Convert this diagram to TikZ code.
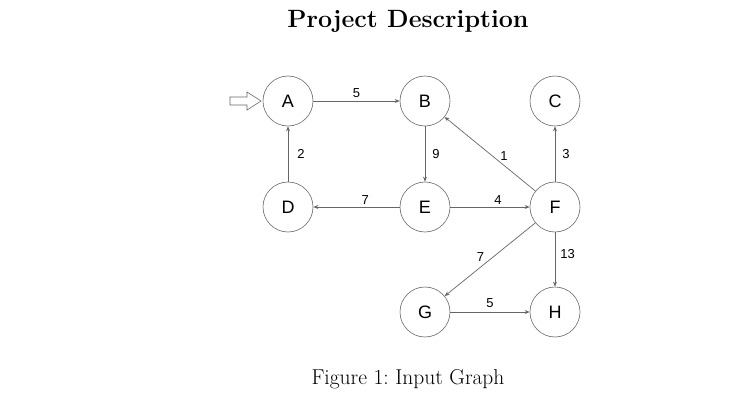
\documentclass[tikz,border=0pt]{standalone}
\usepackage{fontspec}
\newfontfamily\sansf{Liberation Sans}
\usetikzlibrary{arrows.meta}
\begin{document}
\begin{tikzpicture}[x=1pt,y=-1pt,
  st/.style={circle,draw=gray!80!black,line width=0.6pt,minimum size=50pt,inner sep=0pt,font=\sansf\fontsize{18}{18}\selectfont},
  ed/.style={draw=gray!80!black,line width=0.7pt,-{Stealth[length=5pt,width=4pt]}},
  lb/.style={font=\sansf\fontsize{13}{13}\selectfont,inner sep=1pt}]
\useasboundingbox (0,0) rectangle (756,420);
\node[font=\bfseries\fontsize{25}{25}\selectfont] (title) at (408,21) {Project Description};
\node[font=\fontsize{21.5}{21.5}\selectfont] (cap) at (408,379) {Figure 1:\ Input Graph};
\node[st] (A) at (288,101) {A};
\node[st] (B) at (425,101) {B};
\node[st] (C) at (555,101) {C};
\node[st] (D) at (288,207) {D};
\node[st] (E) at (425,207) {E};
\node[st] (F) at (555,207) {F};
\node[st] (G) at (425,312) {G};
\node[st] (H) at (555,312) {H};
\draw[gray!80!black,line width=0.6pt] (230,97) -- (247,97) -- (247,92) -- (261,101) -- (247,110) -- (247,105) -- (230,105) -- cycle;
\draw[ed] (A) -- node[lb,above=2pt]{5} (B);
\draw[ed] (D) -- node[lb,right=8pt]{2} (A);
\draw[ed] (B) -- node[lb,right=6pt]{9} (E);
\draw[ed] (E) -- node[lb,above=1pt,pos=0.4]{7} (D);
\draw[ed] (E) -- node[lb,above=1pt,pos=0.6]{4} (F);
\draw[ed] (F) -- node[lb,pos=0.4,above right=0pt]{1} (B);
\draw[ed] (F) -- node[lb,right=6pt]{3} (C);
\draw[ed] (F) -- node[lb,right=4pt,pos=0.4]{13} (H);
\draw[ed] (F) -- node[lb,pos=0.55,above left=0pt]{7} (G);
\draw[ed] (G) -- node[lb,above=3pt]{5} (H);
\end{tikzpicture}
\end{document}
